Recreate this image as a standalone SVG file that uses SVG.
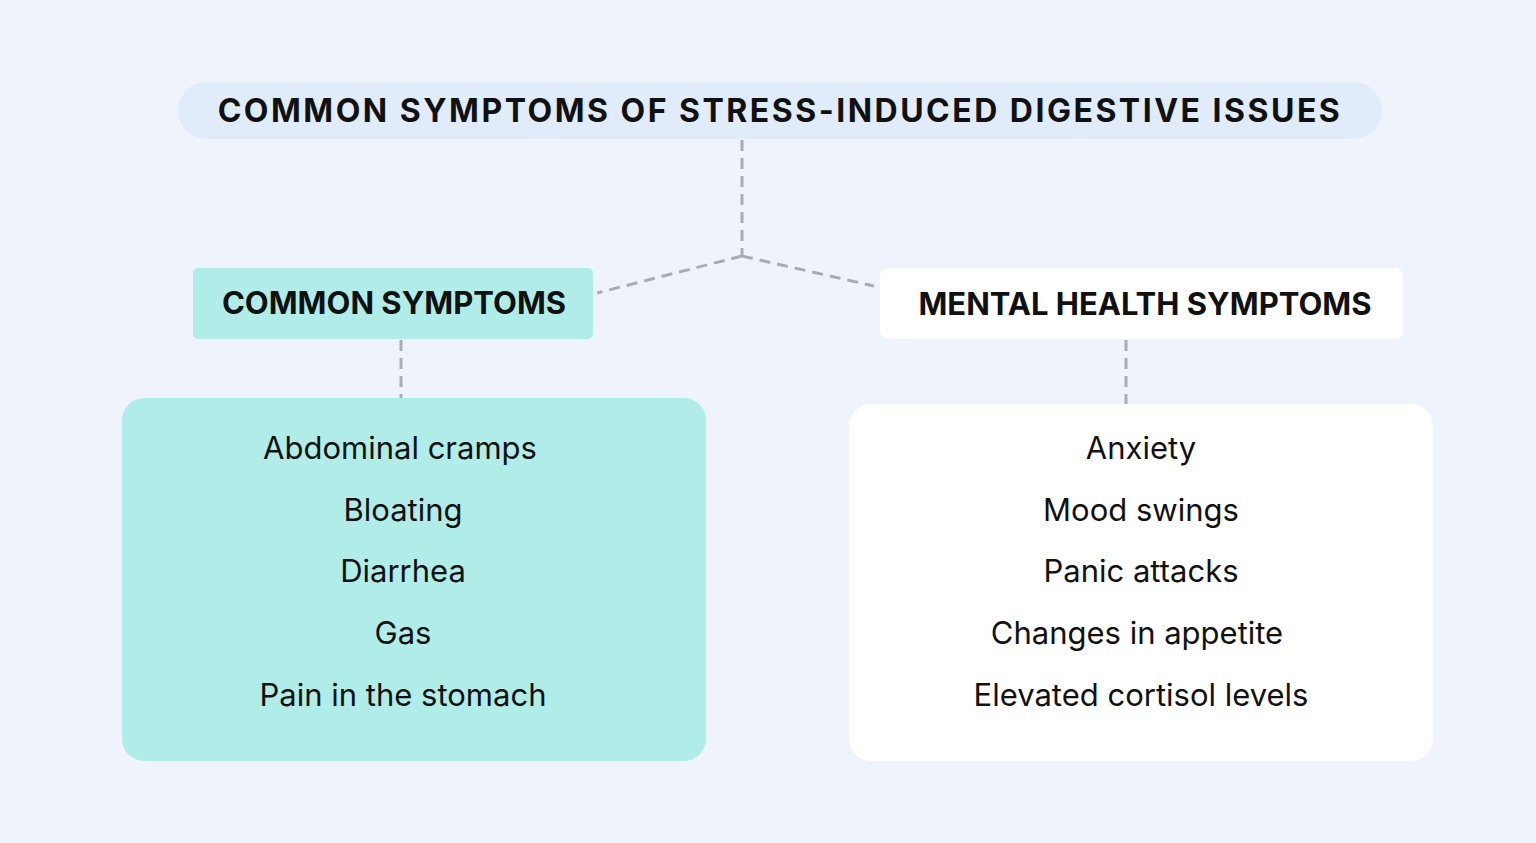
<svg xmlns="http://www.w3.org/2000/svg" width="1536" height="843" viewBox="0 0 1536 843">
<style>
.t{font-family:Inter,"Liberation Sans",sans-serif;fill:#111;}
.item{font-size:31px;text-anchor:middle;}
.hd{font-size:31px;font-weight:700;text-anchor:middle;}
.c{stroke:#a8adb5;stroke-width:3;stroke-dasharray:11 7;fill:none;}
</style>
<rect width="1536" height="843" fill="#eff4fc"/>
<g id="title"><rect x="178" y="82" width="1204" height="57" rx="28" fill="#e1ecfb"/>
<text class="t" x="780" y="122" font-size="32" font-weight="700" text-anchor="middle" letter-spacing="2.5" fill="#1a2540">COMMON SYMPTOMS OF STRESS-INDUCED DIGESTIVE ISSUES</text></g>
<g id="connectors">
<path class="c" d="M742 140 V256"/>
<path class="c" d="M742 256 L597 293"/>
<path class="c" d="M742 256 L874 286"/>
<path class="c" d="M401 340 V398"/>
<path class="c" d="M1126 340 V404"/>
</g>
<g id="common"><rect x="193" y="268" width="400" height="71" rx="5" fill="#b0ede9"/>
<text class="t hd" x="394" y="314">COMMON SYMPTOMS</text></g>
<g id="mental"><rect x="880" y="268" width="523" height="71" rx="8" fill="#fff"/>
<text class="t hd" x="1145" y="315">MENTAL HEALTH SYMPTOMS</text></g>
<g id="commonList"><rect x="122" y="398" width="584" height="363" rx="22" fill="#b0ede9"/>
<text class="t item" x="400" y="459">Abdominal cramps</text>
<text class="t item" x="403" y="521">Bloating</text>
<text class="t item" x="403" y="582">Diarrhea</text>
<text class="t item" x="403" y="644">Gas</text>
<text class="t item" x="403" y="706">Pain in the stomach</text></g>
<g id="mentalList"><rect x="849" y="404" width="584" height="357" rx="22" fill="#fff"/>
<text class="t item" x="1141" y="459">Anxiety</text>
<text class="t item" x="1141" y="521">Mood swings</text>
<text class="t item" x="1141" y="582">Panic attacks</text>
<text class="t item" x="1137" y="644">Changes in appetite</text>
<text class="t item" x="1141" y="706">Elevated cortisol levels</text></g>
</svg>
